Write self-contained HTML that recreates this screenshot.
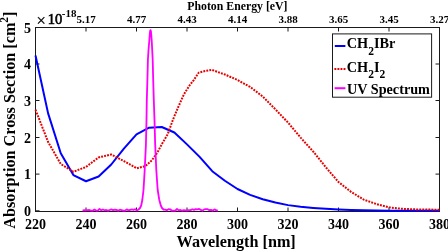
<!DOCTYPE html>
<html><head><meta charset="utf-8"><style>
html,body{margin:0;padding:0;background:#fff;overflow:hidden;}
svg{display:block;}
text{font-family:"Liberation Serif","Times New Roman",serif;font-weight:bold;fill:#000;}
</style></head><body>
<svg width="448" height="252" viewBox="0 0 448 252">
<rect x="0" y="0" width="448" height="252" fill="#fff"/>

<g stroke="#1a1a1a" stroke-width="1" fill="none">
<rect x="35.5" y="27.5" width="404.0" height="184.0"/>
<line x1="35.50" y1="211.5" x2="35.50" y2="207.5"/><line x1="35.50" y1="27.5" x2="35.50" y2="31.5"/><line x1="86.00" y1="211.5" x2="86.00" y2="207.5"/><line x1="86.00" y1="27.5" x2="86.00" y2="31.5"/><line x1="136.50" y1="211.5" x2="136.50" y2="207.5"/><line x1="136.50" y1="27.5" x2="136.50" y2="31.5"/><line x1="187.00" y1="211.5" x2="187.00" y2="207.5"/><line x1="187.00" y1="27.5" x2="187.00" y2="31.5"/><line x1="237.50" y1="211.5" x2="237.50" y2="207.5"/><line x1="237.50" y1="27.5" x2="237.50" y2="31.5"/><line x1="288.00" y1="211.5" x2="288.00" y2="207.5"/><line x1="288.00" y1="27.5" x2="288.00" y2="31.5"/><line x1="338.50" y1="211.5" x2="338.50" y2="207.5"/><line x1="338.50" y1="27.5" x2="338.50" y2="31.5"/><line x1="389.00" y1="211.5" x2="389.00" y2="207.5"/><line x1="389.00" y1="27.5" x2="389.00" y2="31.5"/><line x1="439.50" y1="211.5" x2="439.50" y2="207.5"/><line x1="439.50" y1="27.5" x2="439.50" y2="31.5"/><line x1="35.5" y1="210.80" x2="39.5" y2="210.80"/><line x1="439.5" y1="210.80" x2="435.5" y2="210.80"/><line x1="35.5" y1="174.10" x2="39.5" y2="174.10"/><line x1="439.5" y1="174.10" x2="435.5" y2="174.10"/><line x1="35.5" y1="137.50" x2="39.5" y2="137.50"/><line x1="439.5" y1="137.50" x2="435.5" y2="137.50"/><line x1="35.5" y1="100.50" x2="39.5" y2="100.50"/><line x1="439.5" y1="100.50" x2="435.5" y2="100.50"/><line x1="35.5" y1="64.00" x2="39.5" y2="64.00"/><line x1="439.5" y1="64.00" x2="435.5" y2="64.00"/><line x1="35.5" y1="27.50" x2="39.5" y2="27.50"/><line x1="439.5" y1="27.50" x2="435.5" y2="27.50"/>
</g>
<g fill="none" stroke-linejoin="round">
<polyline points="35.50,55.58 48.12,113.38 60.75,153.23 73.38,175.03 86.00,181.27 98.62,176.50 111.25,164.50 123.88,148.61 136.50,134.30 149.12,127.69 161.75,126.96 174.38,132.46 187.00,144.39 199.62,156.87 212.25,171.18 224.88,180.72 237.50,188.98 250.12,194.85 262.75,199.26 275.38,202.56 288.00,205.13 300.62,206.78 313.25,207.88 325.88,208.72 338.50,209.46 351.12,209.97 363.75,210.27 376.38,210.49 389.00,210.63 401.62,210.71 414.25,210.74 426.88,210.78 439.50,210.82" stroke="#0000ff" stroke-width="2"/>
<polyline points="35.50,109.71 48.12,142.00 60.75,164.02 73.38,171.73 86.00,166.96 98.62,157.42 111.25,154.48 123.88,161.09 136.60,168.30 145.50,166.00 151.80,160.40 157.40,152.50 162.10,143.70 167.60,134.40 173.10,119.30 178.60,106.20 184.00,94.20 189.50,85.50 193.80,80.00 198.70,72.70 205.00,71.00 211.90,69.90 224.88,74.48 237.50,79.98 250.12,86.95 262.75,96.50 275.38,109.34 288.00,122.55 300.62,137.60 313.25,151.55 325.88,167.33 338.50,182.01 351.12,191.92 363.75,199.62 376.38,204.03 389.00,207.33 401.62,208.80 414.25,209.35 426.88,209.53 439.50,209.72" stroke="#e60000" stroke-width="2" stroke-dasharray="1.9 1.15"/>
<polyline points="82.50,210.60 84.20,210.17 85.90,210.45 87.60,210.04 89.30,210.00 91.00,210.69 92.70,210.70 94.40,209.44 96.10,210.58 97.80,210.60 99.50,208.92 101.20,210.30 102.90,209.44 104.60,210.29 106.30,209.96 108.00,210.66 109.70,209.97 111.40,209.34 113.10,210.21 114.80,209.71 116.50,209.89 118.20,210.69 119.90,209.67 121.60,210.07 123.30,210.54 125.00,210.70 126.70,209.35 128.40,210.30 130.10,209.77 131.80,209.31 133.50,209.78 135.20,209.17 136.90,210.42 138.50,209.50 140.00,208.00 141.20,205.50 142.30,200.00 143.50,190.00 144.70,170.00 145.90,145.00 146.50,120.00 146.80,100.00 147.40,80.00 147.90,60.00 148.50,50.00 149.20,42.00 149.70,35.00 150.10,31.20 150.50,30.20 150.90,31.20 151.30,35.00 151.80,42.00 152.20,50.00 152.70,60.00 153.20,80.00 153.80,100.00 154.50,120.00 155.20,145.00 156.30,170.00 157.70,190.00 159.30,200.00 160.80,205.50 162.00,208.00 163.50,209.50 165.10,209.55 166.80,210.34 168.50,209.12 170.20,209.31 171.90,210.68 173.60,210.67 175.30,210.62 177.00,209.02 178.70,210.36 180.40,209.99 182.10,210.54 183.80,210.24 185.50,210.43 187.20,210.48 188.90,210.08 190.60,210.09 192.30,209.23 194.00,209.86 195.70,209.15 197.40,209.38 199.10,208.93 200.80,209.89 202.50,210.65 204.20,209.37 205.90,209.03 207.60,209.23 209.30,210.12 211.00,209.78 212.70,210.62 214.40,209.46 216.10,210.11 217.80,210.55" stroke="#ff00ff" stroke-width="1.8"/>
</g>
<g font-size="14"><text x="35.50" y="228.6" text-anchor="middle">220</text><text x="86.00" y="228.6" text-anchor="middle">240</text><text x="136.50" y="228.6" text-anchor="middle">260</text><text x="187.00" y="228.6" text-anchor="middle">280</text><text x="237.50" y="228.6" text-anchor="middle">300</text><text x="288.00" y="228.6" text-anchor="middle">320</text><text x="338.50" y="228.6" text-anchor="middle">340</text><text x="389.00" y="228.6" text-anchor="middle">360</text><text x="439.50" y="228.6" text-anchor="middle">380</text><text x="31" y="215.90" text-anchor="end">0</text><text x="31" y="179.20" text-anchor="end">1</text><text x="31" y="142.60" text-anchor="end">2</text><text x="31" y="105.60" text-anchor="end">3</text><text x="31" y="69.10" text-anchor="end">4</text><text x="31" y="32.60" text-anchor="end">5</text></g>
<g font-size="11"><text x="86.00" y="22.75" text-anchor="middle">5.17</text><text x="136.50" y="22.75" text-anchor="middle">4.77</text><text x="187.00" y="22.75" text-anchor="middle">4.43</text><text x="237.50" y="22.75" text-anchor="middle">4.14</text><text x="288.00" y="22.75" text-anchor="middle">3.88</text><text x="338.50" y="22.75" text-anchor="middle">3.65</text><text x="389.00" y="22.75" text-anchor="middle">3.45</text><text x="439.50" y="22.75" text-anchor="middle">3.27</text></g>
<text x="237.4" y="9.5" font-size="11.8" text-anchor="middle">Photon Energy [eV]</text>
<text x="236.2" y="247.1" font-size="16.2" text-anchor="middle">Wavelength [nm]</text>
<text transform="translate(15.4,120.1) rotate(-90)" font-size="16.2" text-anchor="middle">Absorption Cross Section [cm<tspan font-size="11.5" dy="-7.5">2</tspan><tspan dy="7.5">]</tspan></text>
<text x="36.5" y="25.9" font-size="16.5" style="font-weight:normal;stroke:#000;stroke-width:0.35">&#215;</text><text x="47.7" y="24.1" font-size="14.5" style="font-weight:normal;stroke:#000;stroke-width:0.6">10</text>
<text x="61.8" y="17.3" font-size="11">-18</text>
<g>
<rect x="332.5" y="33.9" width="99.1" height="63.3" fill="#fff" stroke="#1a1a1a" stroke-width="1"/>
<line x1="334.8" y1="46" x2="345.4" y2="46" stroke="#0000ff" stroke-width="2"/>
<line x1="334.4" y1="69.1" x2="345.6" y2="69.1" stroke="#e60000" stroke-width="2" stroke-dasharray="1.9 1.15"/>
<line x1="334.6" y1="88.2" x2="345.4" y2="88.2" stroke="#ff00ff" stroke-width="2"/>
<text x="346.7" y="48.3" font-size="14.3">CH<tspan font-size="11.5" dy="6.5">2</tspan><tspan dy="-6.5">IBr</tspan></text>
<text x="346.7" y="71.5" font-size="14.3">CH<tspan font-size="11.5" dy="6.5">2</tspan><tspan dy="-6.5">I</tspan><tspan font-size="11.5" dy="6.5">2</tspan></text>
<text x="347.0" y="93.6" font-size="14.2">UV Spectrum</text>
</g>
</svg>
</body></html>
